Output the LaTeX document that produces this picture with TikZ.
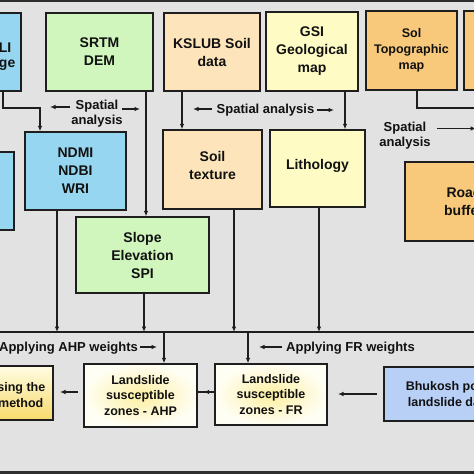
\documentclass[tikz,border=0pt]{standalone}
\usepackage{fontspec}
\setmainfont{Liberation Sans}
\usetikzlibrary{arrows.meta}
\definecolor{bg}{HTML}{E2E2E2}
\definecolor{band}{HTML}{2E2E2E}
\definecolor{edge}{HTML}{1E1E1E}
\definecolor{txt}{HTML}{111111}
\definecolor{lblue}{HTML}{97D6F1}
\definecolor{lgreen}{HTML}{D0F6BE}
\definecolor{peach}{HTML}{FDE4BA}
\definecolor{lyellow}{HTML}{FEFCC4}
\definecolor{orng}{HTML}{F8C97B}
\definecolor{bblue}{HTML}{B8CFF6}
\definecolor{gin}{HTML}{FCEFA0}
\definecolor{gout}{HTML}{FFFEF4}
\definecolor{vtop}{HTML}{FFFCE2}
\definecolor{vbot}{HTML}{F8DA6C}
\begin{document}
\begin{tikzpicture}[x=1pt,y=-1pt,
  box/.style={draw=edge, line width=1.3pt, inner sep=0pt, align=center, text=txt,
    font=\bfseries\fontsize{14}{18}\selectfont},
  smallbox/.style={box, font=\bfseries\fontsize{12.5}{15.5}\selectfont},
  conn/.style={draw=edge, line width=1.2pt},
  arr/.style={conn, -{Latex[length=5.5pt,width=4.5pt]}},
  lbl/.style={font=\bfseries\fontsize{13}{15}\selectfont, text=txt, align=center, inner sep=0pt},
  btxt/.style={font=\bfseries\fontsize{12.5}{15.5}\selectfont, text=txt, inner sep=0pt}]
\useasboundingbox (0,0) rectangle (474,474);
\clip (0,0) rectangle (474,474);
\fill[bg] (0,0) rectangle (474,474);
\fill[band] (0,0) rectangle (474,2);
\fill[band] (0,470.5) rectangle (474,474);

% top row
\node[box, fill=lblue, minimum width=61pt, minimum height=78pt] (oli) at (-9.5,52) {};
\node[lbl, font=\bfseries\fontsize{14}{18}\selectfont, anchor=base east] (olit1) at (11.5,52) {LI};
\node[lbl, font=\bfseries\fontsize{14}{18}\selectfont, anchor=base east] (olit2) at (15.5,67) {ge};
\node[box, fill=lgreen, minimum width=107pt, minimum height=78pt] (srtm) at (99.5,52) {SRTM\\DEM};
\node[box, fill=peach, minimum width=96pt, minimum height=78pt] (kslub) at (212,52) {KSLUB Soil\\data};
\node[box, fill=lyellow, minimum width=92pt, minimum height=79pt] (gsi) at (312,51.5) {GSI\\Geological\\map};
\node[box, fill=orng, minimum width=91pt, minimum height=79pt,
  font=\bfseries\fontsize{12.5}{16}\selectfont] (sol) at (411.5,50.5) {Sol\\Topographic\\map};
\node[box, fill=orng, minimum width=100pt, minimum height=79pt] (rtop) at (514,50.5) {};

% middle row
\node[box, fill=lblue, minimum width=101pt, minimum height=78pt] (ndmi) at (75.5,171) {NDMI\\NDBI\\WRI};
\node[box, fill=lblue, minimum width=60pt, minimum height=78pt] (left2) at (-16,191) {};
\node[box, fill=peach, minimum width=99pt, minimum height=79pt] (soil) at (212.5,169.5) {};
\node[lbl, font=\bfseries\fontsize{14}{18}\selectfont] (soilt) at (212.5,165) {Soil\\texture};
\node[box, fill=lyellow, minimum width=95pt, minimum height=77pt] (litho) at (317.5,168.5) {};
\node[lbl, font=\bfseries\fontsize{14}{18}\selectfont] (lithot) at (317.5,166) {Lithology};
\node[box, fill=orng, minimum width=118pt, minimum height=79pt] (road) at (464,201.5) {Road\\buffer};
\node[box, fill=lgreen, minimum width=133pt, minimum height=76pt] (slope) at (142.5,255) {Slope\\Elevation\\SPI};

% bottom row
\node[smallbox, inner color=gin, outer color=gout, minimum width=113pt, minimum height=63pt] (ahp) at (140.5,395.5) {Landslide\\susceptible\\zones - AHP};
\node[smallbox, inner color=gin, outer color=gout, minimum width=112pt, minimum height=61pt] (fr) at (271,394.5) {Landslide\\susceptible\\zones - FR};
\node[smallbox, top color=vtop, bottom color=vbot, minimum width=113pt, minimum height=54pt] (valid) at (-3.5,393) {};
\node[btxt, anchor=base east] (validt1) at (45.5,391) {sing the};
\node[btxt, anchor=base east] (validt2) at (43.5,407) {method};
\node[smallbox, fill=bblue, minimum width=131pt, minimum height=54pt] (bhu) at (449.5,394) {Bhukosh point\\landslide data};

% spatial analysis labels
\node[lbl] (sa1) at (97,114) {Spatial\\analysis};
\coordinate (sa1a) at (70,107); \coordinate (sa1b) at (50,107);
\coordinate (sa1c) at (122,109); \coordinate (sa1d) at (140,109);
\draw[arr] (sa1a) -- (sa1b);
\draw[arr] (sa1c) -- (sa1d);
\node[lbl] (sa2) at (265.5,110) {Spatial analysis};
\coordinate (sa2a) at (212,109); \coordinate (sa2b) at (193,109);
\coordinate (sa2c) at (317,110); \coordinate (sa2d) at (334,110);
\draw[arr] (sa2a) -- (sa2b);
\draw[arr] (sa2c) -- (sa2d);
\node[lbl] (sa3) at (405,136) {Spatial\\analysis};
\coordinate (sa3a) at (437,128.5); \coordinate (sa3b) at (476,128.5);
\draw[arr] (sa3a) -- (sa3b);

% connectors top -> middle
\coordinate (kLI) at (3,108); \coordinate (xN) at (40,0);
\draw[arr] (oli.south -| kLI) -- (kLI) -| (ndmi.north -| xN);
\coordinate (xS) at (146,0);
\draw[arr] (srtm.south -| xS) -- (slope.north -| xS);
\coordinate (xK) at (182,0);
\draw[arr] (kslub.south -| xK) -- (soil.north -| xK);
\coordinate (xG) at (345,0);
\draw[arr] (gsi.south -| xG) -- (litho.north -| xG);
\coordinate (kT) at (417,108); \coordinate (kTe) at (480,108);
\draw[conn] (sol.south -| kT) -- (kT) -- (kTe);

% bus
\coordinate (busL) at (-5,332); \coordinate (busR) at (480,332);
\draw[conn] (busL) -- (busR);
\coordinate (x1) at (57,0); \coordinate (x2) at (144,0);
\coordinate (x3) at (234,0); \coordinate (x4) at (319,0);
\draw[arr] (ndmi.south -| x1) -- (busL -| x1);
\draw[arr] (slope.south -| x2) -- (busL -| x2);
\draw[arr] (soil.south -| x3) -- (busL -| x3);
\draw[arr] (litho.south -| x4) -- (busL -| x4);
\coordinate (xa) at (164,0); \coordinate (xf) at (248,0);
\draw[arr] (busL -| xa) -- (ahp.north -| xa);
\draw[arr] (busL -| xf) -- (fr.north -| xf);

% weights labels
\node[lbl] (wahp) at (68.5,348) {Applying AHP weights};
\coordinate (wa1) at (140,347); \coordinate (wa2) at (157,347);
\draw[arr] (wa1) -- (wa2);
\node[lbl] (wfr) at (350.5,348) {Applying FR weights};
\coordinate (wf1) at (282,347); \coordinate (wf2) at (259,347);
\draw[arr] (wf1) -- (wf2);

% bottom arrows
\coordinate (yb) at (0,392);
\draw[conn] (fr.west |- yb) -- (ahp.east |- yb);
\draw[arr, shorten >=6pt] (fr.west |- yb) -- (ahp.east |- yb);
\coordinate (av1) at (78,392); \coordinate (av2) at (60,392);
\draw[arr] (av1) -- (av2);
\coordinate (bf1) at (377,394); \coordinate (bf2) at (338,394);
\draw[arr] (bf1) -- (bf2);
\end{tikzpicture}
\end{document}
